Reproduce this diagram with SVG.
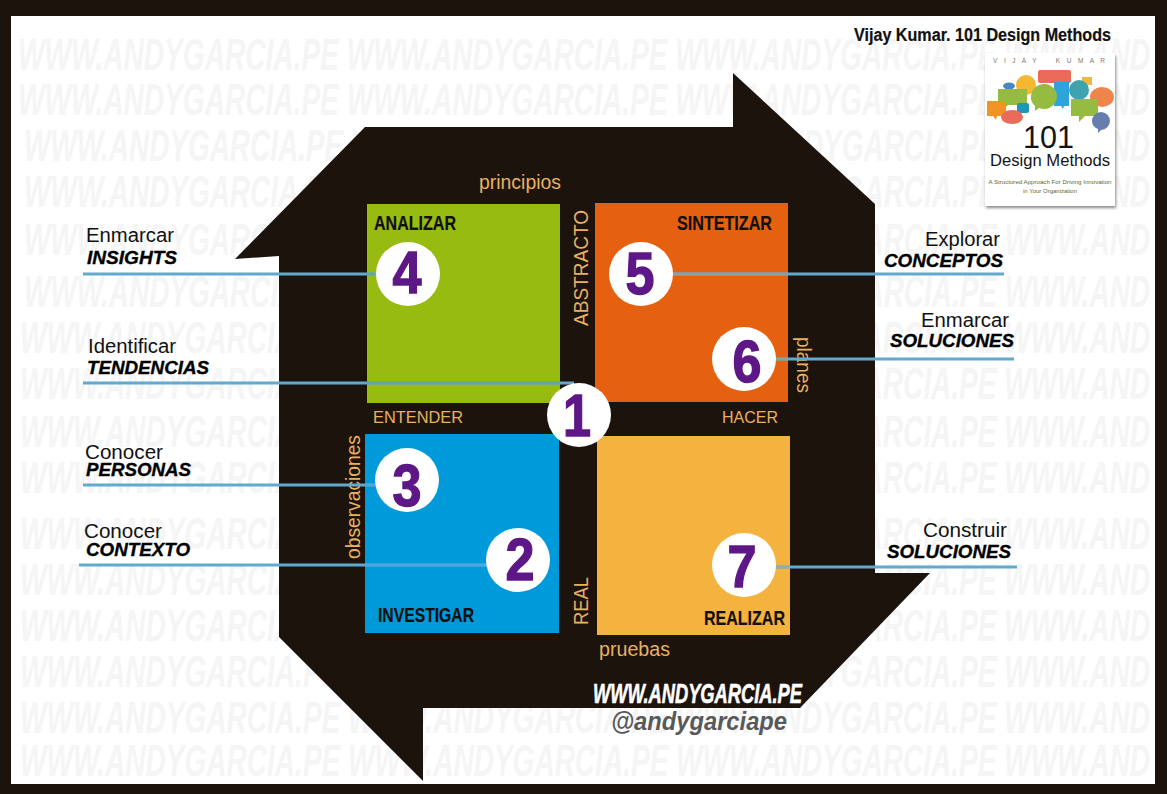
<svg xmlns="http://www.w3.org/2000/svg" width="1167" height="794" viewBox="0 0 1167 794">
<style>
.wm{font:bold 44px "Liberation Sans",Arial,sans-serif;font-style:italic;fill:#f5f5f5}
.lb{font:20px "Liberation Sans",Arial,sans-serif;fill:#111}
.ke{font:italic bold 18.5px "Liberation Sans",Arial,sans-serif;fill:#000;stroke:#000;stroke-width:.35}
.ti{font:bold 21px "Liberation Sans",Arial,sans-serif;fill:#11100f;stroke:#11100f;stroke-width:.2}
.or{font:19.3px "Liberation Sans",Arial,sans-serif;fill:#e8b15f}
.cp{font-size:16.4px}
.ci{fill:#fff}
.dg{font:bold 60px "Liberation Sans",Arial,sans-serif;fill:#5e1786;text-anchor:middle;stroke:#5e1786;stroke-width:1.4}
.cn{stroke:#62a9cf;stroke-width:3;fill:none}
.bk{font-family:"Liberation Sans",Arial,sans-serif;text-anchor:middle}
</style>
<defs>
<filter id="sh" x="-10%" y="-10%" width="120%" height="120%"><feGaussianBlur stdDeviation="1.5"/></filter>
</defs>
<rect id="frame" width="1167" height="794" fill="#1d130d"/>
<rect x="11" y="16" width="1144" height="768" fill="#fff"/>
<g id="watermark">
<text class="wm" x="18" y="70" textLength="1132" lengthAdjust="spacingAndGlyphs">WWW.ANDYGARCIA.PE WWW.ANDYGARCIA.PE WWW.ANDYGARCIA.PE WWW.AND</text>
<text class="wm" x="18" y="115" textLength="1132" lengthAdjust="spacingAndGlyphs">WWW.ANDYGARCIA.PE WWW.ANDYGARCIA.PE WWW.ANDYGARCIA.PE WWW.AND</text>
<text class="wm" x="24" y="161" textLength="1126" lengthAdjust="spacingAndGlyphs">WWW.ANDYGARCIA.PE WWW.ANDYGARCIA.PE WWW.ANDYGARCIA.PE WWW.AND</text>
<text class="wm" x="24" y="207" textLength="1126" lengthAdjust="spacingAndGlyphs">WWW.ANDYGARCIA.PE WWW.ANDYGARCIA.PE WWW.ANDYGARCIA.PE WWW.AND</text>
<text class="wm" x="24" y="255" textLength="1126" lengthAdjust="spacingAndGlyphs">WWW.ANDYGARCIA.PE WWW.ANDYGARCIA.PE WWW.ANDYGARCIA.PE WWW.AND</text>
<text class="wm" x="24" y="307" textLength="1126" lengthAdjust="spacingAndGlyphs">WWW.ANDYGARCIA.PE WWW.ANDYGARCIA.PE WWW.ANDYGARCIA.PE WWW.AND</text>
<text class="wm" x="20" y="353" textLength="1130" lengthAdjust="spacingAndGlyphs">WWW.ANDYGARCIA.PE WWW.ANDYGARCIA.PE WWW.ANDYGARCIA.PE WWW.AND</text>
<text class="wm" x="20" y="399" textLength="1130" lengthAdjust="spacingAndGlyphs">WWW.ANDYGARCIA.PE WWW.ANDYGARCIA.PE WWW.ANDYGARCIA.PE WWW.AND</text>
<text class="wm" x="20" y="447" textLength="1130" lengthAdjust="spacingAndGlyphs">WWW.ANDYGARCIA.PE WWW.ANDYGARCIA.PE WWW.ANDYGARCIA.PE WWW.AND</text>
<text class="wm" x="20" y="493" textLength="1130" lengthAdjust="spacingAndGlyphs">WWW.ANDYGARCIA.PE WWW.ANDYGARCIA.PE WWW.ANDYGARCIA.PE WWW.AND</text>
<text class="wm" x="20" y="549" textLength="1130" lengthAdjust="spacingAndGlyphs">WWW.ANDYGARCIA.PE WWW.ANDYGARCIA.PE WWW.ANDYGARCIA.PE WWW.AND</text>
<text class="wm" x="20" y="595" textLength="1130" lengthAdjust="spacingAndGlyphs">WWW.ANDYGARCIA.PE WWW.ANDYGARCIA.PE WWW.ANDYGARCIA.PE WWW.AND</text>
<text class="wm" x="20" y="641" textLength="1130" lengthAdjust="spacingAndGlyphs">WWW.ANDYGARCIA.PE WWW.ANDYGARCIA.PE WWW.ANDYGARCIA.PE WWW.AND</text>
<text class="wm" x="20" y="687" textLength="1130" lengthAdjust="spacingAndGlyphs">WWW.ANDYGARCIA.PE WWW.ANDYGARCIA.PE WWW.ANDYGARCIA.PE WWW.AND</text>
<text class="wm" x="20" y="733" textLength="1130" lengthAdjust="spacingAndGlyphs">WWW.ANDYGARCIA.PE WWW.ANDYGARCIA.PE WWW.ANDYGARCIA.PE WWW.AND</text>
<text class="wm" x="20" y="776" textLength="1130" lengthAdjust="spacingAndGlyphs">WWW.ANDYGARCIA.PE WWW.ANDYGARCIA.PE WWW.ANDYGARCIA.PE WWW.AND</text>
</g>
<path id="cycle-arrows" d="M365 127H733V73L875 204V573H930L800 708H423V781L279 637V256L235 259Z" fill="#1d130d"/>
<g id="quad-analizar"><rect x="367" y="204" width="193" height="199" fill="#97bb11"/><text class="ti" x="374" y="230" textLength="82" lengthAdjust="spacingAndGlyphs">ANALIZAR</text></g>
<g id="quad-sintetizar"><rect x="595" y="203" width="193" height="199" fill="#e5610f"/><text class="ti" x="677" y="230" textLength="95" lengthAdjust="spacingAndGlyphs">SINTETIZAR</text></g>
<g id="quad-investigar"><rect x="365" y="434" width="194" height="199" fill="#0099da"/><text class="ti" x="378" y="622" textLength="96" lengthAdjust="spacingAndGlyphs">INVESTIGAR</text></g>
<g id="quad-realizar"><rect x="597" y="436" width="193" height="199" fill="#f4b23f"/><text class="ti" x="704" y="625" textLength="81" lengthAdjust="spacingAndGlyphs">REALIZAR</text></g>
<g id="axis-labels">
<text class="or" x="479" y="189" textLength="82" lengthAdjust="spacingAndGlyphs">principios</text>
<text class="or cp" x="373" y="423" textLength="90" lengthAdjust="spacingAndGlyphs">ENTENDER</text>
<text class="or cp" x="722" y="423" textLength="56" lengthAdjust="spacingAndGlyphs">HACER</text>
<text class="or" x="599" y="656" textLength="71" lengthAdjust="spacingAndGlyphs">pruebas</text>
<text class="or" transform="translate(588 326) rotate(-90)" textLength="116" lengthAdjust="spacingAndGlyphs">ABSTRACTO</text>
<text class="or" transform="translate(588 625) rotate(-90)" textLength="48" lengthAdjust="spacingAndGlyphs">REAL</text>
<text class="or" transform="translate(360 559) rotate(-90)" textLength="124" lengthAdjust="spacingAndGlyphs">observaciones</text>
<text class="or" transform="translate(797 337) rotate(90)" textLength="56" lengthAdjust="spacingAndGlyphs">planes</text>
</g>
<g id="connectors" class="cn">
<path d="M83 274H375M83 383H574M83 485H375M79 565H487M673 274H1004M776 359H1014M776 567H1017"/>
<path d="M367 274H375M367 383H560" stroke="#5fa99a"/>
<path d="M673 274H788M776 359H788" stroke="#8d9fa6"/>
<path d="M365 485H375M365 565H487" stroke="#4aa8e0"/>
<path d="M776 567H790" stroke="#8fb0a8"/>
</g>
<g id="step-1"><circle class="ci" cx="579" cy="415" r="32"/><text class="dg" x="577" y="436" textLength="28" lengthAdjust="spacingAndGlyphs">1</text></g>
<g id="step-2"><circle class="ci" cx="518" cy="560" r="32"/><text class="dg" x="520" y="580" textLength="29" lengthAdjust="spacingAndGlyphs">2</text></g>
<g id="step-3"><circle class="ci" cx="407" cy="480" r="32"/><text class="dg" x="407" y="506" textLength="29" lengthAdjust="spacingAndGlyphs">3</text></g>
<g id="step-4"><circle class="ci" cx="408" cy="274" r="32"/><text class="dg" x="407" y="293" textLength="29" lengthAdjust="spacingAndGlyphs">4</text></g>
<g id="step-5"><circle class="ci" cx="641" cy="274" r="32"/><text class="dg" x="640" y="294" textLength="29" lengthAdjust="spacingAndGlyphs">5</text></g>
<g id="step-6"><circle class="ci" cx="744" cy="359" r="32"/><text class="dg" x="747" y="382" textLength="29" lengthAdjust="spacingAndGlyphs">6</text></g>
<g id="step-7"><circle class="ci" cx="744" cy="565" r="32"/><text class="dg" x="742" y="587" textLength="29" lengthAdjust="spacingAndGlyphs">7</text></g>
<g id="label-insights"><text class="lb" x="86" y="242" textLength="88" lengthAdjust="spacingAndGlyphs">Enmarcar</text><text class="ke" x="87" y="264" textLength="90" lengthAdjust="spacingAndGlyphs">INSIGHTS</text></g>
<g id="label-tendencias"><text class="lb" x="88" y="353" textLength="88" lengthAdjust="spacingAndGlyphs">Identificar</text><text class="ke" x="87" y="374" textLength="122" lengthAdjust="spacingAndGlyphs">TENDENCIAS</text></g>
<g id="label-personas"><text class="lb" x="85" y="459" textLength="78" lengthAdjust="spacingAndGlyphs">Conocer</text><text class="ke" x="86" y="476" textLength="105" lengthAdjust="spacingAndGlyphs">PERSONAS</text></g>
<g id="label-contexto"><text class="lb" x="84" y="538" textLength="78" lengthAdjust="spacingAndGlyphs">Conocer</text><text class="ke" x="86" y="556" textLength="104" lengthAdjust="spacingAndGlyphs">CONTEXTO</text></g>
<g id="label-conceptos"><text class="lb" x="925" y="246" textLength="75" lengthAdjust="spacingAndGlyphs">Explorar</text><text class="ke" x="884" y="267" textLength="119" lengthAdjust="spacingAndGlyphs">CONCEPTOS</text></g>
<g id="label-soluciones-1"><text class="lb" x="921" y="327" textLength="88" lengthAdjust="spacingAndGlyphs">Enmarcar</text><text class="ke" x="890" y="347" textLength="124" lengthAdjust="spacingAndGlyphs">SOLUCIONES</text></g>
<g id="label-soluciones-2"><text class="lb" x="923" y="537" textLength="84" lengthAdjust="spacingAndGlyphs">Construir</text><text class="ke" x="887" y="558" textLength="124" lengthAdjust="spacingAndGlyphs">SOLUCIONES</text></g>
<text x="854" y="41" font-family="Liberation Sans, Arial, sans-serif" font-weight="bold" font-size="18" fill="#111" stroke="#111" stroke-width=".2" textLength="257" lengthAdjust="spacingAndGlyphs">Vijay Kumar. 101 Design Methods</text>
<g id="book">
<rect x="986" y="56" width="130" height="152" fill="#888" filter="url(#sh)"/>
<rect x="985" y="53" width="130" height="153" fill="#fff"/>
<text class="bk" x="1049" y="63" font-size="6.5" fill="#777" textLength="112" lengthAdjust="spacing">V I J A Y &#160; &#160;K U M A R</text>
<g opacity=".93">
<path d="M1038 72a2 2 0 0 1 2-2h29a2 2 0 0 1 2 2v9a2 2 0 0 1-2 2h-29a2 2 0 0 1-2-2Z" fill="#e8604c"/>
<circle cx="1026" cy="85" r="10" fill="#f4b324"/>
<ellipse cx="1009" cy="86" rx="6" ry="3.5" fill="#3b7fb8"/>
<path d="M1082 77H1092V85H1086L1084 87V85H1082Z" fill="#f2b233"/>
<path d="M998 89H1027V105H1008L1004 109V105H998Z" fill="#8db733"/>
<path d="M1054 82H1069V106H1064L1063 109L1061 106H1054Z" fill="#1e9fd8"/>
<path d="M1031 96a13 12.500 0 1 1 8 12l-4 3l0-5a13 12 0 0 1-4-10Z" fill="#8db733"/>
<circle cx="1079" cy="90" r="10" fill="#2f9ea8"/>
<path d="M987 101H1006V116H997L996 120L993 116H987Z" fill="#f28c14"/>
<rect x="1017" y="103" width="12" height="10" rx="2" fill="#0f8fb0"/>
<ellipse cx="1012" cy="117" rx="11" ry="7" fill="#e8604c"/>
<ellipse cx="1102" cy="97" rx="12" ry="10" fill="#ee7b3f"/>
<path d="M1071 99H1098V116H1085L1079 122V116H1071Z" fill="#8db733"/>
<path d="M1092 121a9 9 0 1 1 9 9l-3 3v-4a9 9 0 0 1-6-8Z" fill="#5c74a8"/>
</g>
<text class="bk" x="1048.500" y="148" font-size="32" fill="#15131a" textLength="51" lengthAdjust="spacingAndGlyphs">101</text>
<text class="bk" x="1050" y="166" font-size="17" fill="#15131a" textLength="120" lengthAdjust="spacingAndGlyphs">Design Methods</text>
<text class="bk" x="1050" y="184" font-size="5.500" fill="#5b6b2c" textLength="123" lengthAdjust="spacingAndGlyphs">A Structured Approach For Driving Innovation</text>
<text class="bk" x="1050" y="193" font-size="5.500" fill="#5b6b2c" textLength="54" lengthAdjust="spacingAndGlyphs">in Your Organization</text>
</g>
<text x="593" y="703" font-family="Liberation Sans, Arial, sans-serif" font-weight="bold" font-style="italic" font-size="28" fill="#fff" stroke="#fff" stroke-width=".6" textLength="209" lengthAdjust="spacingAndGlyphs">WWW.ANDYGARCIA.PE</text>
<text x="611" y="730" font-family="Liberation Sans, Arial, sans-serif" font-weight="bold" font-style="italic" font-size="25" fill="#58595b" textLength="176" lengthAdjust="spacingAndGlyphs">@andygarciape</text>
</svg>
